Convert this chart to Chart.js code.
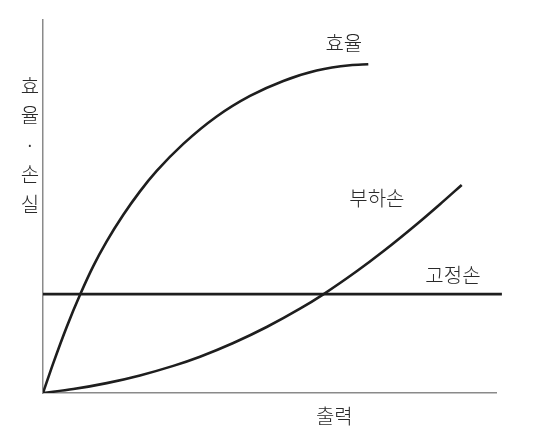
<!DOCTYPE html>
<html>
<head>
<meta charset="utf-8">
<script src="https://cdn.jsdelivr.net/npm/chart.js@4"></script>
<style>
  html, body { margin: 0; padding: 0; background: #fff; }
  #wrap { width: 544px; height: 436px; }
</style>
</head>
<body>
<div id="wrap"><canvas id="chart"></canvas></div>
<script>
const lineCol = "#1e1e1e";
const axisCol = "#8a8a8a";
const fontFam = "'Noto Sans CJK KR', 'Noto Sans', sans-serif";

// 효율 curve
const effX = [0, 2.27, 5.23, 8.32, 11.1, 14.06, 17.73, 21.41, 25.1, 30.97, 38.34, 45.7, 53.05, 60.42, 67.77, 71.81];
const effY = [0, 8.02, 17.72, 26.73, 34.02, 40.64, 47.77, 54.05, 59.52, 66.78, 74.13, 79.65, 83.67, 86.46, 87.88, 88.12];
// 부하손 curve
const loadX = [0, 6.69, 14.06, 21.41, 28.76, 34.66, 42.01, 49.38, 56.73, 61.88, 69.25, 75.12, 82.49, 87.64, 92.43];
const loadY = [0, 1.05, 2.65, 4.72, 7.27, 9.73, 13.4, 17.69, 22.6, 26.46, 32.63, 37.99, 45.25, 50.62, 55.79];
// 고정손 line
const fixedX = [0, 101.3];
const fixedY = [26.5, 26.5];

// text labels, placed in data units
const curveLabels = [
	{ text: "효율", x: 66.4, y: 93.8 },
	{ text: "부하손", x: 73.7, y: 52.3 },
	{ text: "고정손", x: 90.5, y: 31.6 },
];
const xTitle = { text: "출력", x: 64.3 };
const yTitleChars = ["효", "율", "·", "손", "실"];

const pts = (xs, ys) => xs.map((x, i) => ({ x: x, y: ys[i] }));

const labelPlugin = {
	id: "labels",
	afterDraw(chart) {
		const ctx = chart.ctx;
		const sx = chart.scales.x;
		const sy = chart.scales.y;
		ctx.save();
		ctx.fillStyle = "#2a2a2a";
		ctx.font = "300 20px " + fontFam;
		ctx.textAlign = "center";
		ctx.textBaseline = "middle";
		curveLabels.forEach((l) => {
			ctx.fillText(l.text, sx.getPixelForValue(l.x), sy.getPixelForValue(l.y));
		});
		ctx.fillText(xTitle.text, sx.getPixelForValue(xTitle.x), sy.bottom + 23);
		yTitleChars.forEach((c, i) => {
			ctx.fillText(c, sy.left - 13, 86 + i * 29.5);
		});
		ctx.restore();
	},
};

new Chart(document.getElementById("chart"), {
	type: "line",
	data: {
		datasets: [
			{
				label: "효율",
				data: pts(effX, effY),
				borderColor: lineCol,
				borderWidth: 2.6,
				pointRadius: 0,
				cubicInterpolationMode: "monotone",
			},
			{
				label: "부하손",
				data: pts(loadX, loadY),
				borderColor: lineCol,
				borderWidth: 2.6,
				pointRadius: 0,
				cubicInterpolationMode: "monotone",
			},
			{
				label: "고정손",
				data: pts(fixedX, fixedY),
				borderColor: lineCol,
				borderWidth: 2.8,
				pointRadius: 0,
				clip: false,
			},
		],
	},
	options: {
		responsive: true,
		maintainAspectRatio: false,
		animation: false,
		layout: {
			padding: { left: 43, top: 20, right: 48, bottom: 43 },
		},
		plugins: {
			legend: { display: false },
			tooltip: { enabled: false },
		},
		scales: {
			x: {
				type: "linear",
				min: 0,
				max: 100,
				grid: { display: false },
				ticks: { display: false },
				border: { display: true, color: axisCol, width: 1.5 },
				afterFit(scale) { scale.height = 0; },
			},
			y: {
				min: 0,
				max: 100,
				grid: { display: false },
				ticks: { display: false },
				border: { display: true, color: axisCol, width: 1.5 },
				afterFit(scale) { scale.width = 0; },
			},
		},
	},
	plugins: [labelPlugin],
});
</script>
</body>
</html>
